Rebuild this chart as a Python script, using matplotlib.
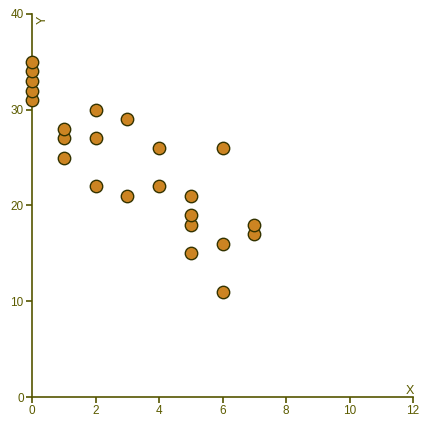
import matplotlib
matplotlib.use("Agg")
import matplotlib.pyplot as plt

x_vals = [0, 0, 0, 0, 0, 1, 1, 1, 2, 2, 2, 3, 3, 4, 4, 5, 5, 5, 5, 6, 6, 6, 7, 7]
y_vals = [31, 32, 33, 34, 35, 25, 27, 28, 22, 27, 30, 21, 29, 22, 26, 15, 18, 19, 21, 11, 16, 26, 17, 18]
x_ticks = [0, 2, 4, 6, 8, 10, 12]
y_ticks = [0, 10, 20, 30, 40]

axis_col = "#555500"
text_col = "#5c5c00"
plt.rcParams["font.family"] = ["Liberation Sans", "DejaVu Sans"]

fig = plt.figure(figsize=(4.22, 4.22), dpi=100)
ax = fig.add_axes([32/422, 25/422, 381/422, 383/422])
ax.scatter(x_vals, y_vals, s=80, c="#CC8422", edgecolors="#333300", linewidths=1.0, zorder=5, clip_on=False)
ax.set_xlim(0, 12)
ax.set_ylim(0, 40)
ax.set_xticks(x_ticks)
ax.set_yticks(y_ticks)
for s in ["top", "right"]:
    ax.spines[s].set_visible(False)
for s in ["left", "bottom"]:
    ax.spines[s].set_color(axis_col)
    ax.spines[s].set_linewidth(1.2)
ax.tick_params(colors=axis_col, labelcolor=text_col, labelsize=8.5, length=4.5, width=1.2, pad=1.5)
ax.text(11.9, 0.05, "X", color=text_col, fontsize=9, ha="center", va="bottom")
ax.text(0.15, 39.4, "Y", color=text_col, fontsize=9, ha="left", va="center", rotation=90)
fig.savefig("out.png", dpi=100)
